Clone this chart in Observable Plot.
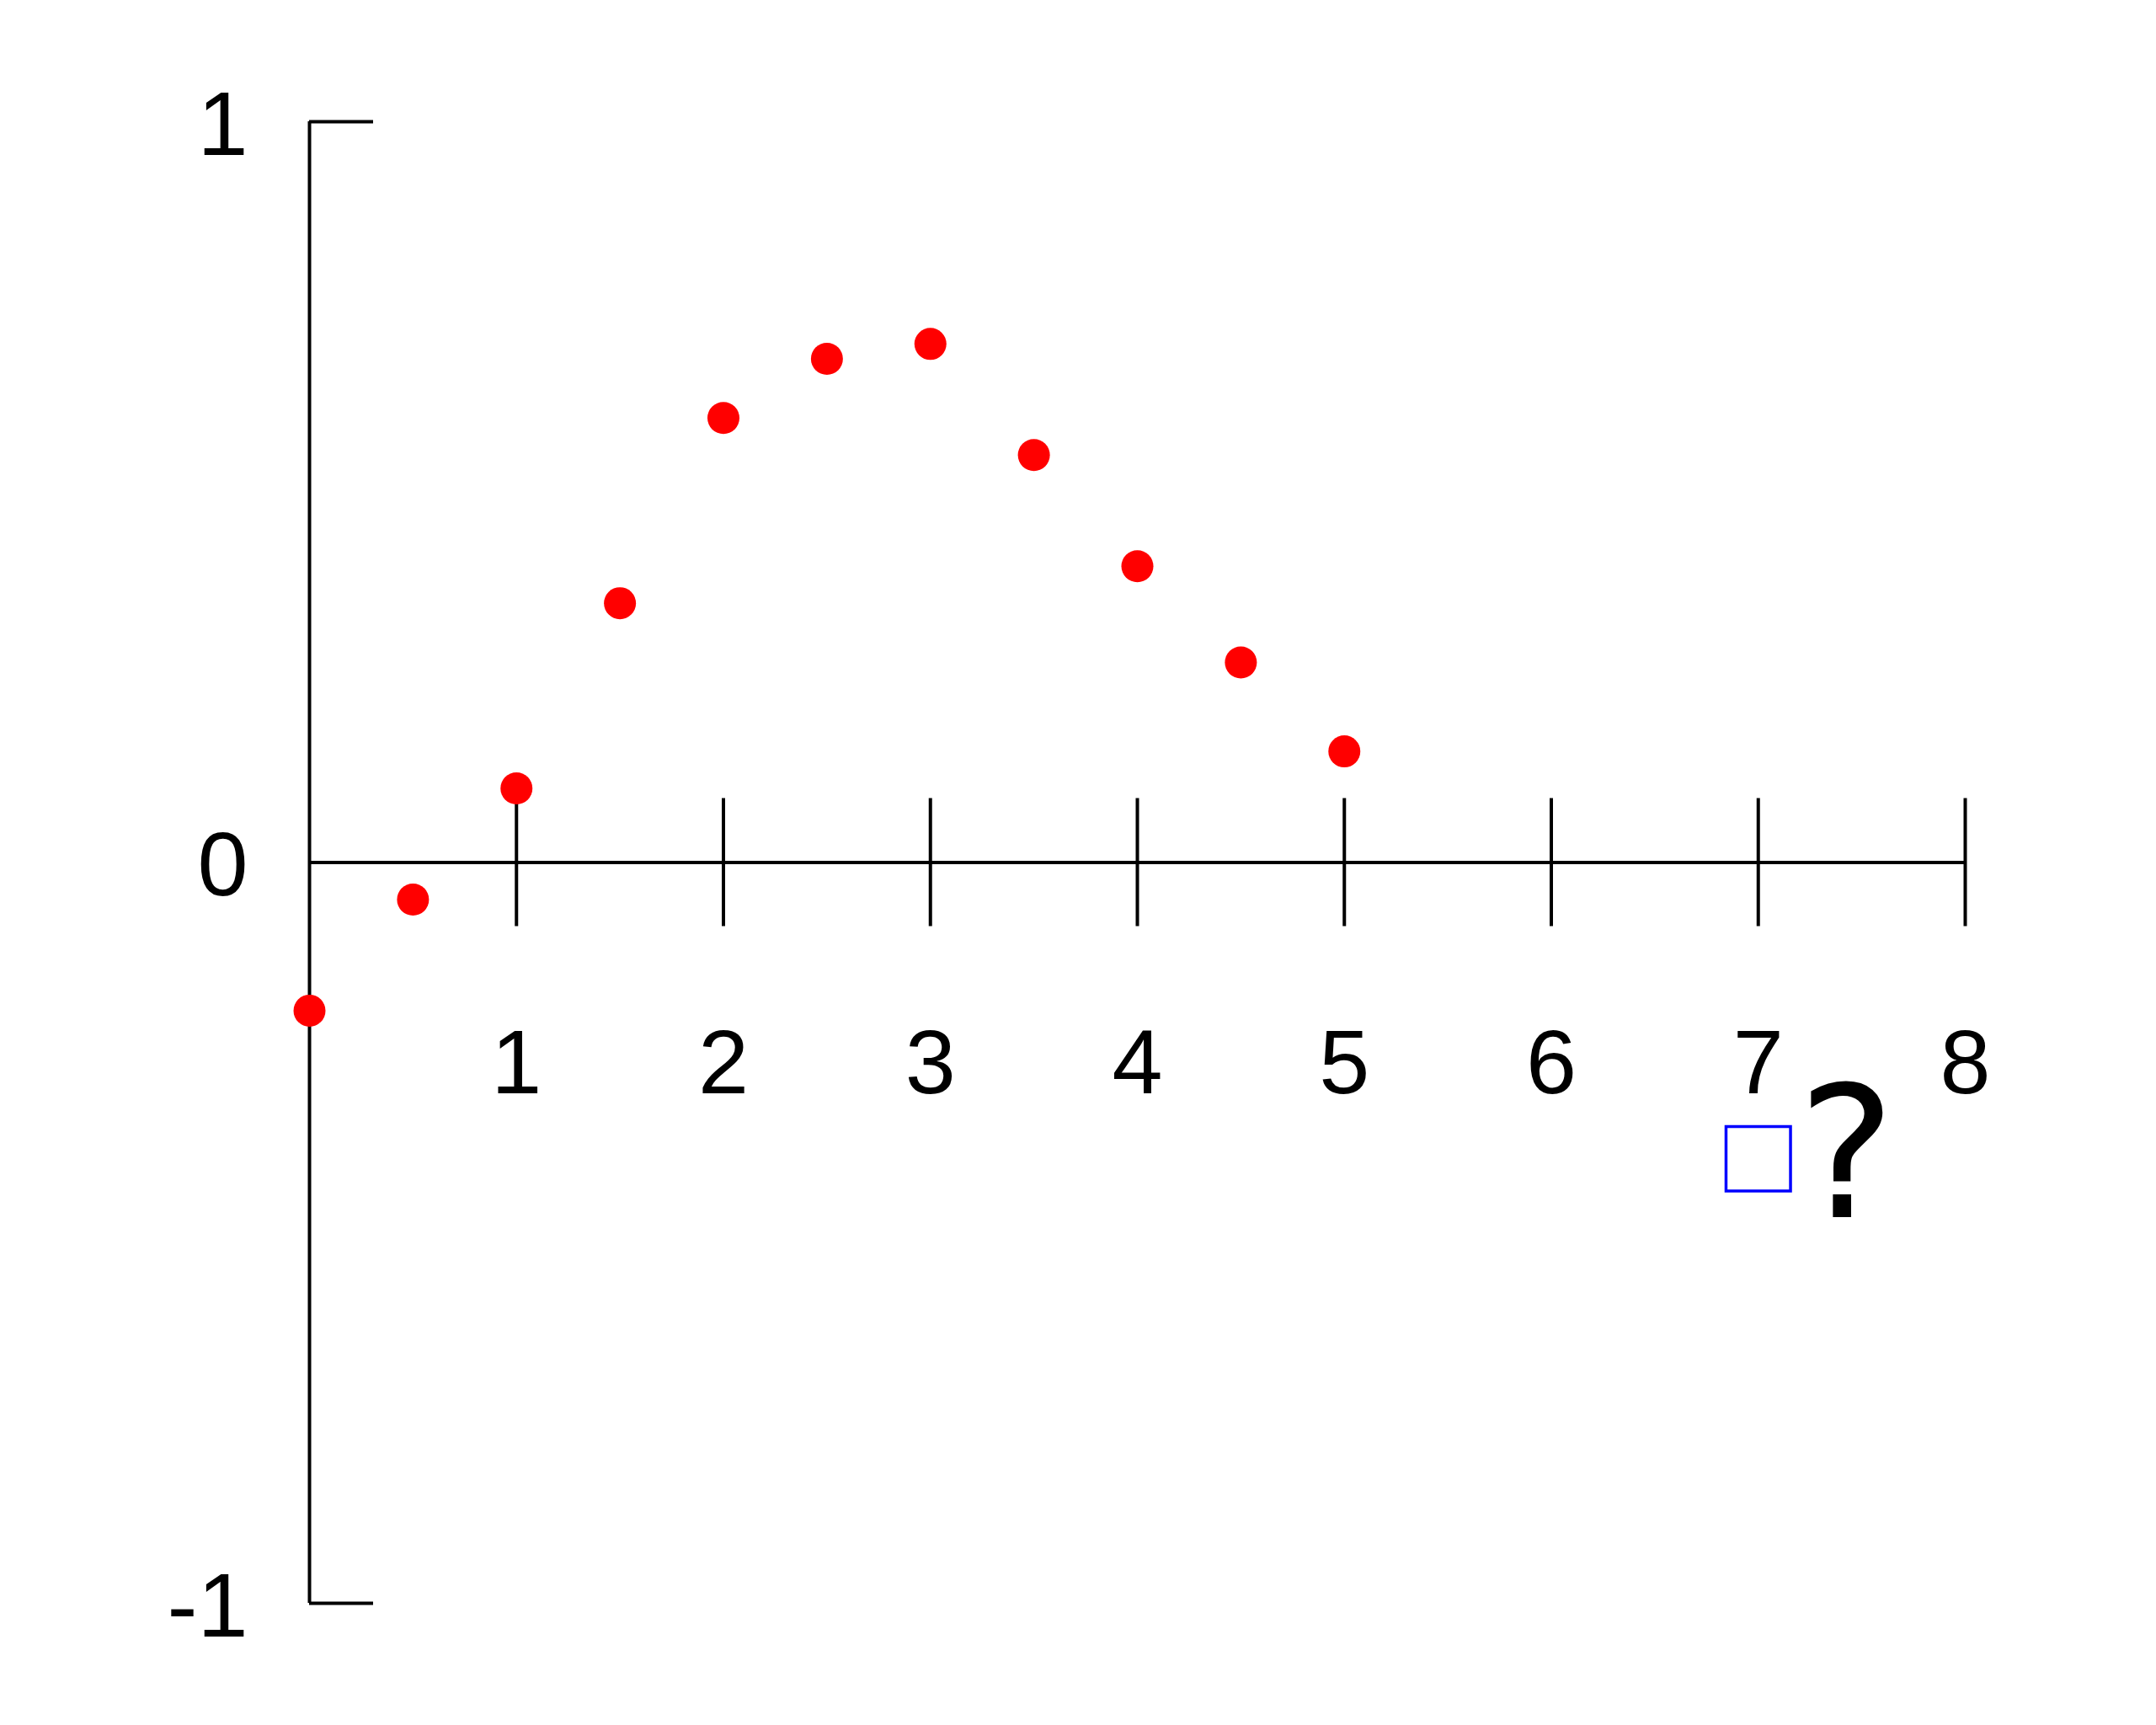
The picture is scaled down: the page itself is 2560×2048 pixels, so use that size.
<!DOCTYPE html>
<html>
<head>
<meta charset="utf-8">
<script src="https://cdn.jsdelivr.net/npm/d3@7"></script>
<script src="https://cdn.jsdelivr.net/npm/@observablehq/plot@0.6"></script>
<style>
  html, body { margin: 0; padding: 0; background: white; }
</style>
</head>
<body>
<div id="chart"></div>
<script>
// Data
const xValues = [0, 0.5, 1, 1.5, 2, 2.5, 3, 3.5, 4, 4.5, 5];
const yValues = [-0.2, -0.05, 0.1, 0.35, 0.6, 0.68, 0.7, 0.55, 0.4, 0.27, 0.15];
const xTicks = [1, 2, 3, 4, 5, 6, 7, 8];
const xTickLabels = ["1", "2", "3", "4", "5", "6", "7", "8"];
const yTicks = [-1, 0, 1];
const yTickLabels = ["-1", "0", "1"];
const markerX = [7];
const markerY = [-0.4];
const markerText = ["?"];

const points = xValues.map((x, i) => ({x, y: yValues[i]}));
const xt = xTicks.map((v, i) => ({v, label: xTickLabels[i]}));
const yt = yTicks.map((v, i) => ({v, label: yTickLabels[i]}));
const marker = markerX.map((x, i) => ({x, y: markerY[i], t: markerText[i]}));

const lw = 4;
const chart = Plot.plot({
  width: 2560,
  height: 2048,
  marginLeft: 367,
  marginRight: 227,
  marginTop: 144,
  marginBottom: 145,
  style: {fontFamily: "Liberation Sans, Arial, sans-serif", background: "white", color: "black"},
  x: {domain: [0, 8], axis: null},
  y: {domain: [-1, 1], axis: null},
  marks: [
    // y axis line
    Plot.ruleX([0], {y1: -1, y2: 1, stroke: "black", strokeWidth: lw}),
    // x axis line
    Plot.ruleY([0], {x1: 0, x2: 8, stroke: "black", strokeWidth: lw}),
    // x ticks crossing the axis
    Plot.ruleX(xt, {x: "v", y1: 0, y2: 0, insetTop: -76, insetBottom: -76, stroke: "black", strokeWidth: lw}),
    // y ticks pointing right
    Plot.ruleY(yt, {y: "v", x1: 0, x2: 0, insetRight: -76, stroke: "black", strokeWidth: lw}),
    // x tick labels
    Plot.text(xt, {x: "v", y: 0, text: "label", textAnchor: "middle", lineAnchor: "bottom", dy: 274, fontSize: 108, fill: "black"}),
    // y tick labels
    Plot.text(yt, {x: 0, y: "v", text: "label", textAnchor: "end", lineAnchor: "bottom", dx: -73, dy: 39, fontSize: 108, fill: "black"}),
    // data points
    Plot.dot(points, {x: "x", y: "y", r: 19, fill: "red", stroke: "none"}),
    // blue square marker
    Plot.dot(marker, {x: "x", y: "y", symbol: "square", r: 43.2, fill: "none", stroke: "blue", strokeWidth: 3.5}),
    // question mark
    Plot.text(marker, {x: "x", y: "y", text: "t", textAnchor: "start", lineAnchor: "bottom", dx: 47, dy: 69, fontSize: 218, fontFamily: "DejaVu Sans", fill: "black"})
  ]
});
document.getElementById("chart").appendChild(chart);
</script>
</body>
</html>
